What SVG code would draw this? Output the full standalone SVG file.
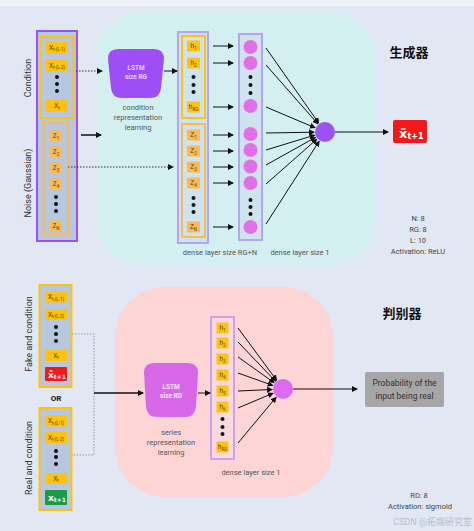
<svg xmlns="http://www.w3.org/2000/svg" width="474" height="531" viewBox="0 0 474 531">
<style>
text{font-family:Roboto,"Liberation Sans","Noto Sans CJK SC",sans-serif}
.it{font-size:6.5px;fill:#5a4500;text-anchor:middle}
.sb{font-size:4.5px}
.yl{fill:#ffc20e}
.zr{fill:#f8bb58}
.lbl{font-size:9px;fill:#333;text-anchor:middle}
.cap{font-size:7.5px;fill:#555;text-anchor:middle}
.par{font-size:7.5px;fill:#444;text-anchor:middle}
.ttl{font-size:13px;font-weight:bold;fill:#111;text-anchor:middle}
.dot{fill:#111}
.ar{stroke:#111;stroke-width:1;fill:none;marker-end:url(#ah)}
.dt{stroke:#333;stroke-width:1;fill:none;stroke-dasharray:1.5 1.5}
.gd{stroke:#9a9a9a;stroke-width:1;fill:none;stroke-dasharray:1.5 1.5}
.nc{fill:#e26ee8}
</style>
<defs>
<marker id="ah" markerWidth="6" markerHeight="6" refX="5" refY="3" orient="auto" markerUnits="userSpaceOnUse">
<path d="M0,0 L6,3 L0,6 Z" fill="#111"/>
</marker>
</defs>
<rect width="474" height="531" fill="#e2e8f3"/>
<rect width="474" height="6" fill="#eef2f8"/>

<g id="generator-panel"><rect x="97" y="12" width="278" height="253" rx="45" fill="#d3eff0"/></g>
<g id="discriminator-panel"><rect x="115" y="287" width="218" height="210" rx="50" fill="#fdd5d5"/></g>

<g id="gen-input">
<rect x="37" y="31" width="40" height="210" fill="#b7c7df" stroke="#9b51f5" stroke-width="2"/>
<rect x="40.5" y="37" width="33" height="81" fill="#b7c7df" stroke="#ffc20e" stroke-width="2"/>
<rect class="yl" x="46" y="42" width="22" height="11"/>
<text class="it" x="57" y="49.5">X<tspan class="sb" dy="1.5">t-(L-1)</tspan></text>
<rect class="yl" x="46" y="60" width="22" height="11"/>
<text class="it" x="57" y="67.5">X<tspan class="sb" dy="1.5">t-(L-2)</tspan></text>
<circle class="dot" cx="57" cy="77" r="2"/><circle class="dot" cx="57" cy="84" r="2"/><circle class="dot" cx="57" cy="91" r="2"/>
<rect class="yl" x="46" y="100" width="22" height="12"/>
<text class="it" x="57" y="108">X<tspan class="sb" dy="1.5">t</tspan></text>
<rect x="43.5" y="123" width="25" height="111" fill="#b7c7df" stroke="#f8bb58" stroke-width="2"/>
<rect class="zr" x="50" y="130.5" width="12" height="11"/><text class="it" x="56" y="138">Z<tspan class="sb" dy="1.5">1</tspan></text>
<rect class="zr" x="50" y="146.5" width="12" height="11"/><text class="it" x="56" y="154">Z<tspan class="sb" dy="1.5">2</tspan></text>
<rect class="zr" x="50" y="162.5" width="12" height="11"/><text class="it" x="56" y="170">Z<tspan class="sb" dy="1.5">3</tspan></text>
<rect class="zr" x="50" y="178.5" width="12" height="11"/><text class="it" x="56" y="186">Z<tspan class="sb" dy="1.5">4</tspan></text>
<circle class="dot" cx="56" cy="197" r="2"/><circle class="dot" cx="56" cy="204" r="2"/><circle class="dot" cx="56" cy="211" r="2"/>
<rect class="zr" x="50" y="220.5" width="12" height="11"/><text class="it" x="56" y="228">Z<tspan class="sb" dy="1.5">N</tspan></text>
<text class="lbl" transform="translate(30.5,78) rotate(-90)">Condition</text>
<text class="lbl" transform="translate(30.5,183) rotate(-90)">Noise (Gaussian)</text>
</g>

<g id="lstm-rg">
<path d="M118,49 L154,49 Q164,49 164,59 L161,88 Q160,98 150,98 L122,98 Q112,98 111,88 L108,59 Q108,49 118,49 Z" fill="#9d4ff5"/>
<text x="136" y="70" style="font-size:6.5px;font-weight:bold;fill:#e6d2ff;text-anchor:middle">LSTM</text>
<text x="136" y="78.5" style="font-size:6.5px;font-weight:bold;fill:#e6d2ff;text-anchor:middle">size RG</text>
<text class="cap" x="138" y="110">condition</text>
<text class="cap" x="138" y="120">representation</text>
<text class="cap" x="138" y="130">learning</text>
</g>

<g id="gen-dense-rgn">
<rect x="178" y="32" width="30" height="211" fill="#cfe3ee" stroke="#b3a4f5" stroke-width="2"/>
<rect x="182" y="36" width="23" height="82" fill="#cfe3ee" stroke="#ffc20e" stroke-width="2"/>
<rect class="yl" x="187" y="40.5" width="13" height="11"/><text class="it" x="193.5" y="48">h<tspan class="sb" dy="1.5">1</tspan></text>
<rect class="yl" x="187" y="57.5" width="13" height="11"/><text class="it" x="193.5" y="65">h<tspan class="sb" dy="1.5">2</tspan></text>
<circle class="dot" cx="193.5" cy="77" r="2"/><circle class="dot" cx="193.5" cy="85" r="2"/><circle class="dot" cx="193.5" cy="92" r="2"/>
<rect class="yl" x="187" y="101.5" width="13" height="11"/><text class="it" x="193.5" y="109">h<tspan class="sb" dy="1.5">RG</tspan></text>
<rect x="182" y="124" width="23" height="113" fill="#cfe3ee" stroke="#f8bb58" stroke-width="2"/>
<rect class="zr" x="187" y="129.5" width="13" height="11"/><text class="it" x="193.5" y="137">Z<tspan class="sb" dy="1.5">1</tspan></text>
<rect class="zr" x="187" y="145.5" width="13" height="11"/><text class="it" x="193.5" y="153">Z<tspan class="sb" dy="1.5">2</tspan></text>
<rect class="zr" x="187" y="161.5" width="13" height="11"/><text class="it" x="193.5" y="169">Z<tspan class="sb" dy="1.5">3</tspan></text>
<rect class="zr" x="187" y="177.5" width="13" height="11"/><text class="it" x="193.5" y="185">Z<tspan class="sb" dy="1.5">4</tspan></text>
<circle class="dot" cx="193.5" cy="198" r="2"/><circle class="dot" cx="193.5" cy="205" r="2"/><circle class="dot" cx="193.5" cy="212" r="2"/>
<rect class="zr" x="187" y="221.5" width="13" height="11"/><text class="it" x="193.5" y="229">Z<tspan class="sb" dy="1.5">N</tspan></text>
<text class="cap" x="220" y="255">dense layer size RG+N</text>
</g>

<g id="gen-neurons">
<rect x="239" y="34" width="23" height="206" fill="#cfe3ee" stroke="#b3a4f5" stroke-width="2"/>
<circle class="nc" cx="250.5" cy="47" r="7"/><circle class="nc" cx="250.5" cy="63" r="7"/>
<circle class="dot" cx="250.5" cy="77" r="2"/><circle class="dot" cx="250.5" cy="85" r="2"/><circle class="dot" cx="250.5" cy="93" r="2"/>
<circle class="nc" cx="250.5" cy="106" r="7"/><circle class="nc" cx="250.5" cy="134" r="7"/>
<circle class="nc" cx="250.5" cy="150" r="7"/><circle class="nc" cx="250.5" cy="166.5" r="7"/>
<circle class="nc" cx="250.5" cy="183" r="7"/>
<circle class="dot" cx="250.5" cy="200" r="2"/><circle class="dot" cx="250.5" cy="207" r="2"/><circle class="dot" cx="250.5" cy="214" r="2"/>
<circle class="nc" cx="250.5" cy="227" r="7"/>
<text class="cap" x="300" y="255">dense layer size 1</text>
</g>

<g id="gen-output-neuron"><circle cx="325" cy="132" r="10" fill="#9c52f2"/></g>

<g id="gen-output">
<rect x="393" y="120" width="34" height="23" rx="2" fill="#f01a1a"/>
<text x="399" y="138" style="font-family:'DejaVu Sans',sans-serif;font-size:13px;font-weight:bold;fill:#fff">x̃<tspan style="font-size:8px" dy="1">t+1</tspan></text>
</g>

<g id="gen-title">
<text class="ttl" x="409" y="57">生成器</text>
<text class="par" x="418" y="221">N: 8</text>
<text class="par" x="418" y="232">RG: 8</text>
<text class="par" x="418" y="243">L: 10</text>
<text class="par" x="418" y="254">Activation: ReLU</text>
</g>

<g id="disc-fake">
<rect x="39.5" y="285" width="32" height="102" fill="#b7c7df" stroke="#ffc20e" stroke-width="2"/>
<rect class="yl" x="45" y="291.5" width="22" height="11"/>
<text class="it" x="56" y="299">X<tspan class="sb" dy="1.5">t-(L-1)</tspan></text>
<rect class="yl" x="45" y="309" width="22" height="11"/>
<text class="it" x="56" y="316.5">X<tspan class="sb" dy="1.5">t-(L-2)</tspan></text>
<circle class="dot" cx="56" cy="327" r="2"/><circle class="dot" cx="56" cy="334" r="2"/><circle class="dot" cx="56" cy="341" r="2"/>
<rect class="yl" x="45" y="350" width="22" height="11"/>
<text class="it" x="56" y="357.5">X<tspan class="sb" dy="1.5">t</tspan></text>
<rect x="45" y="367" width="22" height="14" rx="1" fill="#f01a1a"/>
<text x="48" y="378" style="font-family:'DejaVu Sans',sans-serif;font-size:9px;font-weight:bold;fill:#fff">x̃<tspan style="font-size:6px" dy="1">t+1</tspan></text>
<text class="lbl" transform="translate(32,334) rotate(-90)">Fake and condition</text>
</g>

<g id="or-label"><text x="56" y="401" style="font-size:8px;font-weight:bold;fill:#111;text-anchor:middle">OR</text></g>

<g id="disc-real">
<rect x="39.5" y="408" width="32" height="102" fill="#b7c7df" stroke="#ffc20e" stroke-width="2"/>
<rect class="yl" x="45" y="415.5" width="22" height="11"/>
<text class="it" x="56" y="423">X<tspan class="sb" dy="1.5">t-(L-1)</tspan></text>
<rect class="yl" x="45" y="432" width="22" height="11"/>
<text class="it" x="56" y="439.5">X<tspan class="sb" dy="1.5">t-(L-2)</tspan></text>
<circle class="dot" cx="56" cy="451" r="2"/><circle class="dot" cx="56" cy="457" r="2"/><circle class="dot" cx="56" cy="464" r="2"/>
<rect class="yl" x="45" y="473" width="22" height="11"/>
<text class="it" x="56" y="480.5">X<tspan class="sb" dy="1.5">t</tspan></text>
<rect x="45" y="490" width="22" height="15" rx="1" fill="#1a9a48"/>
<text x="48" y="500.5" style="font-family:'DejaVu Sans',sans-serif;font-size:9px;font-weight:bold;fill:#fff">x<tspan style="font-size:6px" dy="1">t+1</tspan></text>
<text class="lbl" transform="translate(32,458) rotate(-90)">Real and condition</text>
</g>

<g id="lstm-rd">
<path d="M154,363 L188,363 Q198,363 198,373 L196,407 Q195,417 185,417 L157,417 Q147,417 146,407 L144,373 Q144,363 154,363 Z" fill="#d868e8"/>
<text x="171" y="389" style="font-size:6.5px;font-weight:bold;fill:#fbe6ff;text-anchor:middle">LSTM</text>
<text x="171" y="398" style="font-size:6.5px;font-weight:bold;fill:#fbe6ff;text-anchor:middle">size RD</text>
<text class="cap" x="171" y="435">series</text>
<text class="cap" x="171" y="445">representation</text>
<text class="cap" x="171" y="455">learning</text>
</g>

<g id="disc-dense">
<rect x="211" y="317" width="23" height="142" fill="#fbd9e0" stroke="#c9a2e8" stroke-width="2"/>
<rect class="yl" x="216.5" y="322.5" width="12" height="11"/><text class="it" x="222.5" y="330">h<tspan class="sb" dy="1.5">1</tspan></text>
<rect class="yl" x="216.5" y="337.5" width="12" height="11"/><text class="it" x="222.5" y="345">h<tspan class="sb" dy="1.5">2</tspan></text>
<rect class="yl" x="216.5" y="353.5" width="12" height="11"/><text class="it" x="222.5" y="361">h<tspan class="sb" dy="1.5">3</tspan></text>
<rect class="yl" x="216.5" y="369.5" width="12" height="11"/><text class="it" x="222.5" y="377">h<tspan class="sb" dy="1.5">4</tspan></text>
<rect class="yl" x="216.5" y="385.5" width="12" height="11"/><text class="it" x="222.5" y="393">h<tspan class="sb" dy="1.5">5</tspan></text>
<rect class="yl" x="216.5" y="401.5" width="12" height="11"/><text class="it" x="222.5" y="409">h<tspan class="sb" dy="1.5">6</tspan></text>
<circle class="dot" cx="222.5" cy="419" r="2"/><circle class="dot" cx="222.5" cy="427" r="2"/><circle class="dot" cx="222.5" cy="434" r="2"/>
<rect class="yl" x="216.5" y="441.5" width="12" height="11"/><text class="it" x="222.5" y="449">h<tspan class="sb" dy="1.5">RD</tspan></text>
<text class="cap" x="251" y="475">dense layer size 1</text>
</g>

<g id="disc-neuron"><circle cx="283" cy="389" r="10" fill="#dd6af0"/></g>

<g id="disc-output">
<rect x="365" y="372" width="79" height="35" rx="2" fill="#a6a6a6"/>
<text x="404.5" y="386" style="font-size:8.5px;fill:#333;text-anchor:middle">Probability of the</text>
<text x="404.5" y="399" style="font-size:8.5px;fill:#333;text-anchor:middle">input being real</text>
</g>

<g id="disc-title">
<text class="ttl" x="402" y="318">判别器</text>
<text class="par" x="419" y="498">RD: 8</text>
<text class="par" x="420" y="509">Activation: sigmoid</text>
</g>

<g id="watermark"><text x="472" y="525" style="font-size:9px;fill:#b9bec8;text-anchor:end">CSDN @拓端研究室</text></g>

<g id="connectors">
<path class="dt" d="M76,71 H102" marker-end="url(#ah)"/>
<path class="ar" d="M81,135 H101" style="stroke-width:1.5"/>
<path class="dt" d="M68,167 H173" marker-end="url(#ah)"/>
<path class="ar" d="M164,71 H177"/>
<path class="ar" d="M213,46 H233"/>
<path class="ar" d="M213,63 H233"/>
<path class="ar" d="M213,107 H233"/>
<path class="ar" d="M213,135 H233"/>
<path class="ar" d="M213,151 H233"/>
<path class="ar" d="M213,167 H233"/>
<path class="ar" d="M213,183 H233"/>
<path class="ar" d="M213,227 H233"/>
<path class="ar" d="M266,48 L318.7,123"/>
<path class="ar" d="M266,65 L317.7,123.7"/>
<path class="ar" d="M266,107 L314.9,127.7"/>
<path class="ar" d="M266,133 L314,132.2"/>
<path class="ar" d="M266,150 L314.5,135.2"/>
<path class="ar" d="M266,165 L315.4,137.4"/>
<path class="ar" d="M266,184 L316.7,139.3"/>
<path class="ar" d="M266,224 L319.1,141.3"/>
<path class="ar" d="M335,132 H388"/>
<path class="gd" d="M72,334 H94 V455 H72"/>
<path class="ar" d="M94,393 H143" style="stroke-width:1.5"/>
<path class="ar" d="M198,393 H210"/>
<path class="ar" d="M238,328 L276.5,380.1"/>
<path class="ar" d="M238,342 L275.4,381.1"/>
<path class="ar" d="M238,357 L274,382.6"/>
<path class="ar" d="M238,373 L272.6,385.3"/>
<path class="ar" d="M238,391 L272,389.5"/>
<path class="ar" d="M238,408 L272.9,393.3"/>
<path class="ar" d="M238,443 L276,397.4"/>
<path class="ar" d="M293,389 H357"/>
</g>
</svg>
